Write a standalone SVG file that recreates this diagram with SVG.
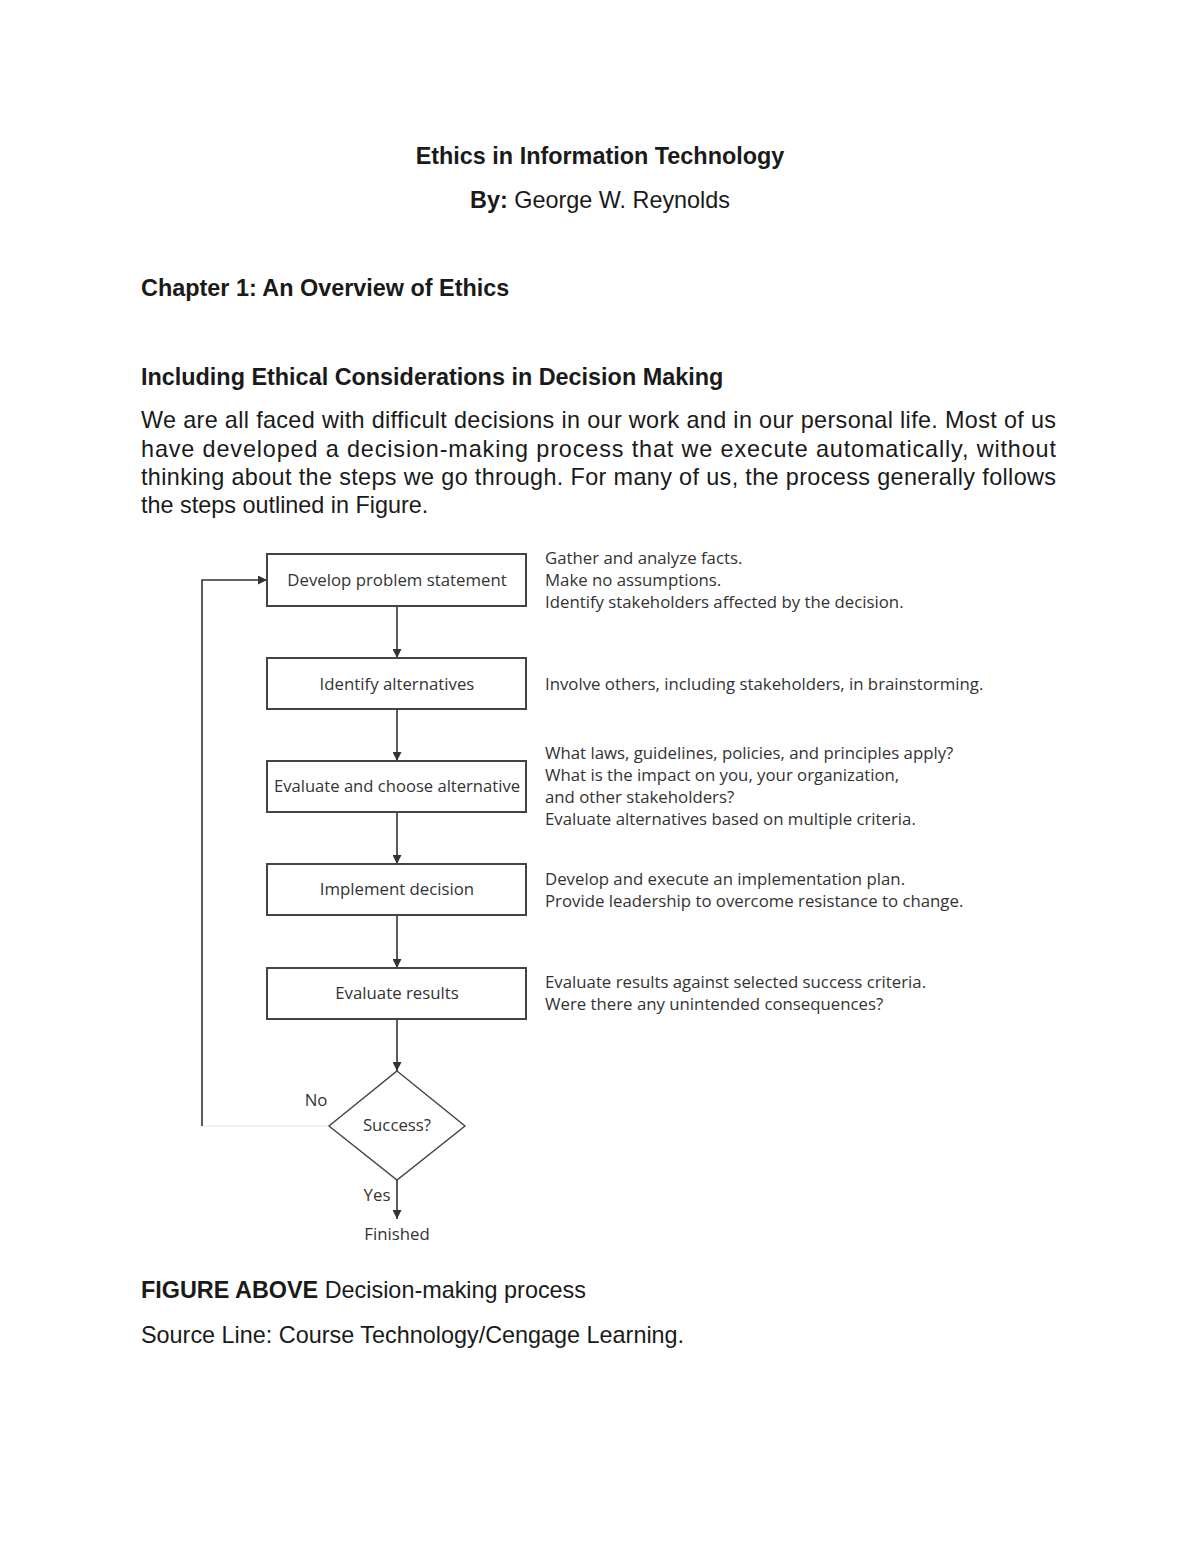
<svg xmlns="http://www.w3.org/2000/svg" width="1200" height="1553" viewBox="0 0 1200 1553">
<style>
.doc{font-family:"Liberation Sans",Arial,sans-serif;font-size:23.4px;fill:#1a1a1a}
.b{font-weight:bold}
.d{font-family:"Open Sans","Liberation Sans",sans-serif;font-size:16.8px;fill:#333}
.box{fill:#fff;stroke:#444;stroke-width:2}
.ln{fill:none;stroke:#333;stroke-width:1.6}
.faint{fill:none;stroke:#e6e6e6;stroke-width:1.2}
</style>
<defs>
<marker id="ah2" viewBox="0 0 10 10" refX="10" refY="5" markerWidth="9" markerHeight="9" orient="auto" markerUnits="userSpaceOnUse">
<path d="M0,0 L10,5 L0,10 z" fill="#333"/>
</marker>
</defs>
<rect width="1200" height="1553" fill="#fff"/>

<g id="header">
<text class="doc b" x="600" y="164" text-anchor="middle">Ethics in Information Technology</text>
<text class="doc" x="600" y="208" text-anchor="middle"><tspan class="b">By:</tspan> George W. Reynolds</text>
<text class="doc b" x="141" y="296">Chapter 1: An Overview of Ethics</text>
<text class="doc b" x="141" y="385">Including Ethical Considerations in Decision Making</text>
<text class="doc" x="141" y="428" textLength="915" lengthAdjust="spacing">We are all faced with difficult decisions in our work and in our personal life. Most of us</text>
<text class="doc" x="141" y="457" textLength="915" lengthAdjust="spacing">have developed a decision-making process that we execute automatically, without</text>
<text class="doc" x="141" y="485" textLength="915" lengthAdjust="spacing">thinking about the steps we go through. For many of us, the process generally follows</text>
<text class="doc" x="141" y="513">the steps outlined in Figure.</text>
</g>

<g id="connectors">
<line class="ln" x1="397" y1="606" x2="397" y2="658" marker-end="url(#ah2)"/>
<line class="ln" x1="397" y1="709" x2="397" y2="761" marker-end="url(#ah2)"/>
<line class="ln" x1="397" y1="812" x2="397" y2="864" marker-end="url(#ah2)"/>
<line class="ln" x1="397" y1="915" x2="397" y2="968" marker-end="url(#ah2)"/>
<line class="ln" x1="397" y1="1019" x2="397" y2="1071" marker-end="url(#ah2)"/>
<line class="ln" x1="397" y1="1180" x2="397" y2="1219" marker-end="url(#ah2)"/>
<line class="faint" x1="329" y1="1126" x2="202" y2="1126"/>
<polyline class="ln" points="202,1126 202,580 267,580" marker-end="url(#ah2)"/>
<text class="d" x="316" y="1106" text-anchor="middle">No</text>
<text class="d" x="377" y="1201" text-anchor="middle">Yes</text>
</g>

<g id="n1">
<rect class="box" x="267" y="554" width="259" height="52"/>
<text class="d" x="397" y="586" text-anchor="middle">Develop problem statement</text>
</g>
<g id="n2">
<rect class="box" x="267" y="658" width="259" height="51"/>
<text class="d" x="397" y="690" text-anchor="middle">Identify alternatives</text>
</g>
<g id="n3">
<rect class="box" x="267" y="761" width="259" height="51"/>
<text class="d" x="397" y="792" text-anchor="middle" textLength="246" lengthAdjust="spacingAndGlyphs">Evaluate and choose alternative</text>
</g>
<g id="n4">
<rect class="box" x="267" y="864" width="259" height="51"/>
<text class="d" x="397" y="895" text-anchor="middle">Implement decision</text>
</g>
<g id="n5">
<rect class="box" x="267" y="968" width="259" height="51"/>
<text class="d" x="397" y="999" text-anchor="middle">Evaluate results</text>
</g>
<g id="n6">
<polygon class="box" points="397,1071 465,1126 397,1180 329,1126" style="stroke-width:1.4"/>
<text class="d" x="397" y="1131" text-anchor="middle">Success?</text>
</g>
<g id="n7">
<text class="d" x="397" y="1240" text-anchor="middle">Finished</text>
</g>

<g id="notes">
<text class="d" x="545" y="564">Gather and analyze facts.</text>
<text class="d" x="545" y="586">Make no assumptions.</text>
<text class="d" x="545" y="608">Identify stakeholders affected by the decision.</text>
<text class="d" x="545" y="690">Involve others, including stakeholders, in brainstorming.</text>
<text class="d" x="545" y="759">What laws, guidelines, policies, and principles apply?</text>
<text class="d" x="545" y="781">What is the impact on you, your organization,</text>
<text class="d" x="545" y="803">and other stakeholders?</text>
<text class="d" x="545" y="825">Evaluate alternatives based on multiple criteria.</text>
<text class="d" x="545" y="885">Develop and execute an implementation plan.</text>
<text class="d" x="545" y="907">Provide leadership to overcome resistance to change.</text>
<text class="d" x="545" y="988">Evaluate results against selected success criteria.</text>
<text class="d" x="545" y="1010">Were there any unintended consequences?</text>
</g>

<g id="footer">
<text class="doc" x="141" y="1298"><tspan class="b">FIGURE ABOVE</tspan> Decision-making process</text>
<text class="doc" x="141" y="1343">Source Line: Course Technology/Cengage Learning.</text>
</g>
</svg>
